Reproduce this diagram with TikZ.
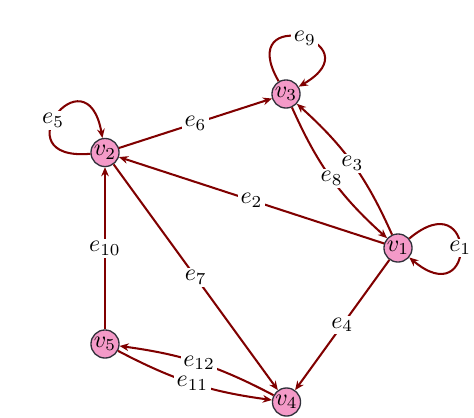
\documentclass[tikz,border=0pt]{standalone}
\usetikzlibrary{arrows.meta}
\definecolor{edgec}{HTML}{800000}
\definecolor{vfill}{HTML}{F49AC8}
\definecolor{vdraw}{HTML}{30303A}
\begin{document}
\begin{tikzpicture}[x=0.4167pt,y=0.4167pt,
  vertex/.style={circle,draw=vdraw,fill=vfill,line width=0.55pt,minimum size=11.7pt,inner sep=0pt},
  arc/.style={draw=edgec,line width=0.85pt,-{Stealth[length=3.8pt,width=3.2pt]}},
  lbl/.style={fill=white,inner sep=1pt}]
\useasboundingbox (0,0) rectangle (474,417);
\node[vertex] (v1) at (398,169) {$v_1$};
\node[vertex] (v2) at (105,264.5) {$v_2$};
\node[vertex] (v3) at (286,323) {$v_3$};
\node[vertex] (v4) at (286.5,15) {$v_4$};
\node[vertex] (v5) at (105,73) {$v_5$};
\draw[arc] (v2) -- node[lbl]{$e_6$} (v3);
\draw[arc] (v1) -- node[lbl]{$e_2$} (v2);
\draw[arc] (v1) to[bend right=12] node[lbl]{$e_3$} (v3);
\draw[arc] (v3) to[bend right=12] node[lbl]{$e_8$} (v1);
\draw[arc] (v1) -- node[lbl]{$e_4$} (v4);
\draw[arc] (v2) -- node[lbl]{$e_7$} (v4);
\draw[arc] (v5) -- node[lbl]{$e_{10}$} (v2);
\draw[arc] (v4) to[bend right=10] node[lbl]{$e_{12}$} (v5);
\draw[arc] (v5) to[bend right=10] node[lbl]{$e_{11}$} (v4);
\draw[arc] (v3) to[out=120,in=30,distance=38pt] node[lbl,pos=0.53]{$e_9$} (v3);
\draw[arc] (v2) to[out=185,in=100,distance=38pt] node[lbl,pos=0.45]{$e_5$} (v2);
\draw[arc] (v1) to[out=40,in=-40,distance=37pt] node[lbl]{$e_1$} (v1);
\end{tikzpicture}
\end{document}
